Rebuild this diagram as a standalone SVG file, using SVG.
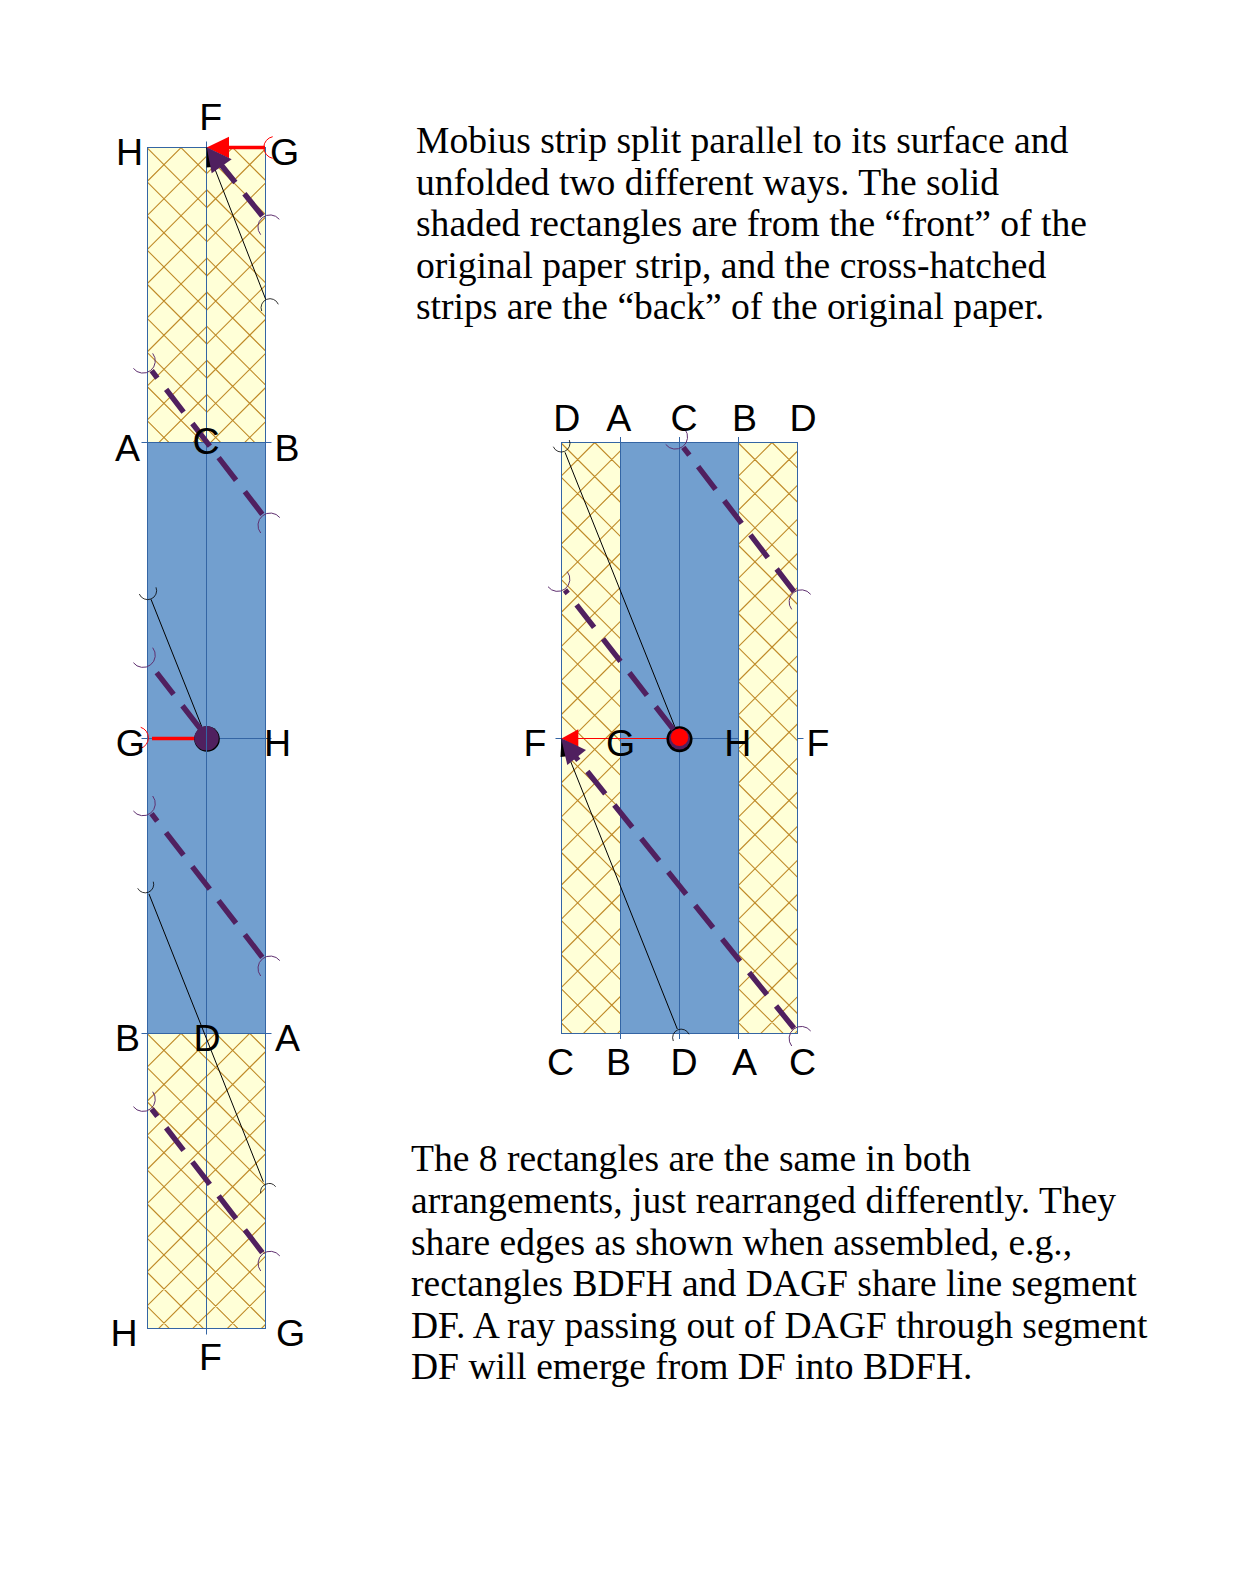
<svg xmlns="http://www.w3.org/2000/svg" xmlns:xlink="http://www.w3.org/1999/xlink" width="1241" height="1595" viewBox="0 0 1241 1595">
<style>
.blue{fill:#729fcf;stroke:#3465a4;stroke-width:1}
.paper{fill:#ffffd7;stroke:none}
.edge{fill:none;stroke:#3465a4;stroke-width:1}
.guide{fill:none;stroke:#3465a4;stroke-width:1}
.hatch{fill:none;stroke:#bf8a28;stroke-width:1.1}
.dash{fill:none;stroke:#50205f;stroke-width:5.4;stroke-dasharray:28.6 14.4}
.thin{fill:none;stroke:#000;stroke-width:1}
.arcP{fill:none;stroke:#5f3070;stroke-width:1}
.arcK{fill:none;stroke:#000;stroke-width:.8}
.arcR{fill:none;stroke:#f00;stroke-width:1}
.lab{font-family:"Liberation Sans",Arial,sans-serif;font-size:37.5px;fill:#000;text-anchor:middle}
.body{font-family:"Liberation Serif","Times New Roman",serif;font-size:37.6px;fill:#000}
.body2{font-family:"Liberation Serif","Times New Roman",serif;font-size:37.55px;fill:#000}
</style>
<defs>
<path id="lat" class="hatch" d="M34.1 0l600 600M0 0l600 600M-34.1 0l600 600M-68.2 0l600 600M-102.3 0l600 600M-136.4 0l600 600M-170.5 0l600 600M-204.6 0l600 600M-238.7 0l600 600M-272.8 0l600 600M-306.9 0l600 600M-341 0l600 600M-375.1 0l600 600M-409.2 0l600 600M-443.3 0l600 600M-477.4 0l600 600M-511.5 0l600 600M-545.6 0l600 600M-579.7 0l600 600M-613.8 0l600 600M-647.9 0l600 600M-34.1 0l-600 600M0 0l-600 600M34.1 0l-600 600M68.2 0l-600 600M102.3 0l-600 600M136.4 0l-600 600M170.5 0l-600 600M204.6 0l-600 600M238.7 0l-600 600M272.8 0l-600 600M306.9 0l-600 600M341 0l-600 600M375.1 0l-600 600M409.2 0l-600 600M443.3 0l-600 600M477.4 0l-600 600M511.5 0l-600 600M545.6 0l-600 600M579.7 0l-600 600M613.8 0l-600 600M647.9 0l-600 600"/>
<clipPath id="c1"><rect x="147.5" y="147.5" width="59" height="295"/></clipPath>
<clipPath id="c2"><rect x="206.5" y="147.5" width="59" height="295"/></clipPath>
<clipPath id="c3"><rect x="147.5" y="1033.5" width="59" height="295"/></clipPath>
<clipPath id="c4"><rect x="206.5" y="1033.5" width="59" height="295"/></clipPath>
<clipPath id="c5"><rect x="561.5" y="442.5" width="59" height="591"/></clipPath>
<clipPath id="c6"><rect x="738.5" y="442.5" width="59" height="591"/></clipPath>
</defs>
<rect width="1241" height="1595" fill="#fff"/>
<g id="left-strip">
<rect class="paper" x="147.5" y="147.5" width="118" height="295"/>
<g clip-path="url(#c1)"><use xlink:href="#lat" transform="translate(181 147.6)"/></g>
<g clip-path="url(#c2)"><use xlink:href="#lat" transform="translate(232.7 147.6)"/></g>
<rect class="edge" x="147.5" y="147.5" width="59" height="295"/>
<rect class="edge" x="206.5" y="147.5" width="59" height="295"/>
<rect class="blue" x="147.5" y="442.5" width="118" height="591"/>
<rect class="paper" x="147.5" y="1033.5" width="118" height="295"/>
<g clip-path="url(#c3)"><use xlink:href="#lat" transform="translate(181 1033.3)"/></g>
<g clip-path="url(#c4)"><use xlink:href="#lat" transform="translate(215.6 1033.3)"/></g>
<rect class="edge" x="147.5" y="1033.5" width="59" height="295"/>
<rect class="edge" x="206.5" y="1033.5" width="59" height="295"/>
<path class="guide" d="M206.5 141.5V1334.5M141.5 442.5H271.5M141.5 738.5H271.5M141.5 1033.5H271.5"/>
</g>
<g id="right-strip">
<rect class="paper" x="561.5" y="442.5" width="59" height="591"/>
<g clip-path="url(#c5)"><use xlink:href="#lat" transform="translate(594.7 442.5)"/></g>
<rect class="edge" x="561.5" y="442.5" width="59" height="591"/>
<rect class="blue" x="620.5" y="442.5" width="118" height="591"/>
<rect class="paper" x="738.5" y="442.5" width="59" height="591"/>
<g clip-path="url(#c6)"><use xlink:href="#lat" transform="translate(772 442.5)"/></g>
<rect class="edge" x="738.5" y="442.5" width="59" height="591"/>
<path class="guide" d="M620.5 437V1039M679.5 437V1039M738.5 437V1039M555.5 738.5H561.5M620.5 738.5H738.5M797.5 738.5H803.5"/>
</g>
<g id="connectors">
<path class="thin" d="M206.5 147.5L265.7 299.3"/>
<path d="M206.5 147.5L222 166L206.5 167.5Z" fill="#000"/>
<path class="thin" d="M151 599.3L206.5 738.5"/>
<path class="thin" d="M149 894L263.3 1181.7"/>
<path class="thin" d="M565 452.3L679.5 738.5"/>
<path class="thin" d="M561.5 738.5L677.3 1029"/>
<path d="M561.5 738.5L578 755L560.5 757Z" fill="#000"/>
<path class="arcK" d="M261.7 311A8.5 8.5 0 0 1 278.3 304.3"/>
<path class="arcK" d="M156 587.3A8.5 8.5 0 0 1 139.3 594"/>
<path class="arcK" d="M153.3 881.7A8.5 8.5 0 0 1 137.7 888.3"/>
<path class="arcK" d="M260.7 1193.3A8.5 8.5 0 0 1 275.7 1186.7"/>
<path class="arcK" d="M569.3 440A8.5 8.5 0 0 1 553.3 446.7"/>
<path class="arcK" d="M673.3 1041A8.5 8.5 0 0 1 689 1034.3"/>
<path d="M265 147.5H228" stroke="#f00" stroke-width="3.3" fill="none"/>
<path d="M206.7 147.5L229 136.7V158.3Z" fill="#f00"/>
<path class="arcR" d="M272.7 136.7A11 11 0 0 0 272.7 158.3"/>
<path d="M152 738.5H206" stroke="#f00" stroke-width="3.3" fill="none"/>
<path class="arcR" d="M140.7 727.3A11 11 0 0 1 140.7 748.3"/>
<path d="M578 738.5H679" stroke="#f00" stroke-width="1.2" fill="none"/>
<path d="M561.5 738.5L578.3 729.3V747.7Z" fill="#f00"/>
<circle cx="207" cy="739" r="12.8" fill="#000"/>
<circle cx="679.5" cy="739.3" r="13" fill="#000"/>
<circle cx="679.5" cy="739" r="10.5" fill="#50205f"/>
<circle cx="679.5" cy="737.3" r="8.7" fill="#f00"/>
<path class="dash" d="M262.3 216L212 153.5"/>
<path d="M206.7 147.3L231.7 159.3L211.7 173.3Z" fill="#50205f"/>
<path class="dash" d="M262.3 514.3L151.7 370.7"/>
<path class="dash" d="M200 728.3L156.7 672.7"/>
<path class="dash" d="M262.3 957.3L151.5 813.7"/>
<path class="dash" d="M262.3 1252.6L151.7 1109"/>
<path class="dash" d="M794 591.7L683.3 447.3"/>
<path class="dash" d="M673.3 729.3L565 590"/>
<path class="dash" d="M794 1028.3L570 750"/>
<path d="M561.2 738.3L586 750L567.3 765Z" fill="#50205f"/>
<circle cx="206.5" cy="738.3" r="12.2" fill="#50205f"/>
<path class="guide" d="M206.5 725V752"/>
<path class="arcP" d="M260.7 234.7A12 12 0 0 1 279.3 219.3"/>
<path class="arcP" d="M260.7 533A12 12 0 0 1 279.8 517.6"/>
<path class="arcP" d="M260.7 976A12 12 0 0 1 279.8 960.6"/>
<path class="arcP" d="M260.7 1271A12 12 0 0 1 279.8 1255.9"/>
<path class="arcP" d="M791.7 609.4A12 12 0 0 1 810.7 594.4"/>
<path class="arcP" d="M791.7 1046A12 12 0 0 1 810.7 1031"/>
<path class="arcP" d="M152.7 353.4A12 12 0 0 1 133.4 368.4"/>
<path class="arcP" d="M152.7 647.7A12 12 0 0 1 133.4 662.7"/>
<path class="arcP" d="M152.7 796A12 12 0 0 1 133.4 811"/>
<path class="arcP" d="M152.7 1091.7A12 12 0 0 1 133.4 1106.7"/>
<path class="arcP" d="M685 429.4A12 12 0 0 1 665.7 444.4"/>
<path class="arcP" d="M567.3 571.7A12 12 0 0 1 548 586.7"/>
</g>
<g id="labels">
<text class="lab" x="210.7" y="130">F</text>
<text class="lab" x="129.5" y="165">H</text>
<text class="lab" x="284.5" y="165">G</text>
<text class="lab" x="127.5" y="460.7">A</text>
<text class="lab" x="206" y="454">C</text>
<text class="lab" x="287" y="460.7">B</text>
<text class="lab" x="130.3" y="755.7">G</text>
<text class="lab" x="277.5" y="755.7">H</text>
<text class="lab" x="127.5" y="1050.7">B</text>
<text class="lab" x="207" y="1050.7">D</text>
<text class="lab" x="287.5" y="1050.7">A</text>
<text class="lab" x="124" y="1346">H</text>
<text class="lab" x="290.5" y="1346">G</text>
<text class="lab" x="210.5" y="1370">F</text>
<text class="lab" x="566.7" y="430.7">D</text>
<text class="lab" x="618.7" y="430.7">A</text>
<text class="lab" x="684" y="430.7">C</text>
<text class="lab" x="744.5" y="430.7">B</text>
<text class="lab" x="803" y="430.7">D</text>
<text class="lab" x="535" y="755.7">F</text>
<text class="lab" x="620.5" y="755.7">G</text>
<text class="lab" x="737.8" y="755.7">H</text>
<text class="lab" x="818" y="755.7">F</text>
<text class="lab" x="560.5" y="1075">C</text>
<text class="lab" x="618.5" y="1075">B</text>
<text class="lab" x="684" y="1075">D</text>
<text class="lab" x="744.5" y="1075">A</text>
<text class="lab" x="802.5" y="1075">C</text>
</g>
<g id="text-top">
<text class="body" x="416" y="153.2">Mobius strip split parallel to its surface and</text>
<text class="body" x="416" y="194.8">unfolded two different ways. The solid</text>
<text class="body" x="416" y="236.3">shaded rectangles are from the “front” of the</text>
<text class="body" x="416" y="277.8">original paper strip, and the cross-hatched</text>
<text class="body" x="416" y="319.2">strips are the “back” of the original paper.</text>
</g>
<g id="text-bottom">
<text class="body2" x="411" y="1171.3">The 8 rectangles are the same in both</text>
<text class="body2" x="411" y="1212.8">arrangements, just rearranged differently. They</text>
<text class="body2" x="411" y="1254.5">share edges as shown when assembled, e.g.,</text>
<text class="body2" x="411" y="1296">rectangles BDFH and DAGF share line segment</text>
<text class="body2" x="411" y="1337.5">DF. A ray passing out of DAGF through segment</text>
<text class="body2" x="411" y="1379">DF will emerge from DF into BDFH.</text>
</g>
</svg>
